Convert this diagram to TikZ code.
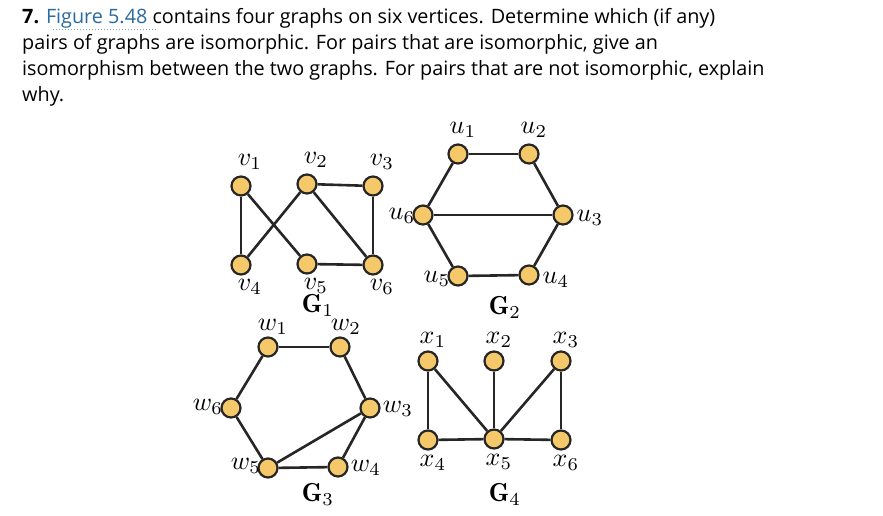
\documentclass[tikz,border=0pt]{standalone}
\usepackage{graphicx}
\usepackage{fontspec}
\setsansfont{Open Sans}
\newcommand{\mlab}[1]{\scalebox{2.6}{$#1$}}
\tikzset{
  vtx/.style={circle,draw=black!85,fill=vfill,line width=2.2pt,minimum size=19pt,inner sep=0pt},
  edg/.style={line width=2.6pt,draw=black!85},
  lab/.style={inner sep=0pt},
  glab/.style={inner sep=0pt},
  txt/.style={anchor=base west,inner sep=0pt,font=\sffamily\fontsize{19.8}{22}\selectfont}
}
\definecolor{vfill}{HTML}{F5C86A}
\definecolor{linkblue}{HTML}{2A6A9E}
\begin{document}
\begin{tikzpicture}[x=1pt,y=-1pt]
\useasboundingbox (0,0) rectangle (883,516);
\node[txt] (t1) at (22,24) {\textbf{7.} \textcolor{linkblue}{Figure 5.48} contains four graphs on six vertices. Determine which (if any)};
\node[txt] (t2) at (22,50) {pairs of graphs are isomorphic. For pairs that are isomorphic, give an};
\node[txt] (t3) at (22,76) {isomorphism between the two graphs. For pairs that are not isomorphic, explain};
\node[txt] (t4) at (22,102) {why.};
\coordinate (ua) at (53,30); \coordinate (ub) at (157,30);
\draw[linkblue!60,dotted,line width=1pt] (ua) -- (ub);
% G1
\foreach \n/\x/\y in {v1/241/186,v2/307/184,v3/373/186,v4/241/265,v5/307/264,v6/373/265}
  \node[vtx] (\n) at (\x,\y) {};
\foreach \a/\b in {v1/v4,v1/v5,v2/v4,v2/v3,v2/v6,v3/v6,v5/v6}
  \draw[edg] (\a) -- (\b);
\foreach \n/\i in {v1/1,v2/2,v3/3} \node[lab] at ([shift={(9,-24)}]\n) {\mlab{v_{\i}}};
\foreach \n/\i in {v4/4,v5/5,v6/6} \node[lab] at ([shift={(9,22)}]\n) {\mlab{v_{\i}}};
\node[glab] (g1) at (318,305) {\mlab{\mathbf{G}_1}};
% G2
\foreach \n/\x/\y in {u1/458/154,u2/529/154,u6/423/215,u3/563/215,u5/458/276,u4/529/275}
  \node[vtx] (\n) at (\x,\y) {};
\foreach \a/\b in {u1/u2,u2/u3,u3/u4,u4/u5,u5/u6,u6/u1,u6/u3}
  \draw[edg] (\a) -- (\b);
\foreach \n/\i in {u1/1,u2/2} \node[lab] at ([shift={(5,-24)}]\n) {\mlab{u_{\i}}};
\node[lab] at ([shift={(-21,1)}]u6) {\mlab{u_6}};
\node[lab] at ([shift={(27,3)}]u3) {\mlab{u_3}};
\node[lab] at ([shift={(-21,3)}]u5) {\mlab{u_5}};
\node[lab] at ([shift={(27,5)}]u4) {\mlab{u_4}};
\node[glab] (g2) at (505,307) {\mlab{\mathbf{G}_2}};
% G3
\foreach \n/\x/\y in {w1/268/347,w2/340/347,w6/231/408,w3/370/408,w5/268/468,w4/338/467}
  \node[vtx] (\n) at (\x,\y) {};
\foreach \a/\b in {w1/w2,w2/w3,w3/w4,w4/w5,w5/w6,w6/w1,w5/w3}
  \draw[edg] (\a) -- (\b);
\node[lab] at ([shift={(5,-20)}]w1) {\mlab{w_1}};
\node[lab] at ([shift={(6,-20)}]w2) {\mlab{w_2}};
\node[lab] at ([shift={(-23,-1)}]w6) {\mlab{w_6}};
\node[lab] at ([shift={(28,1)}]w3) {\mlab{w_3}};
\node[lab] at ([shift={(-22,-2)}]w5) {\mlab{w_5}};
\node[lab] at ([shift={(28,1)}]w4) {\mlab{w_4}};
\node[glab] (g3) at (318,494) {\mlab{\mathbf{G}_3}};
% G4
\foreach \n/\x/\y in {x1/428/361,x2/494/361,x3/561/361,x4/428/440,x5/494/439,x6/561/440}
  \node[vtx] (\n) at (\x,\y) {};
\foreach \a/\b in {x1/x4,x1/x5,x2/x5,x3/x5,x3/x6,x4/x5,x5/x6}
  \draw[edg] (\a) -- (\b);
\foreach \n/\i in {x1/1,x2/2,x3/3} \node[lab] at ([shift={(5,-21)}]\n) {\mlab{x_{\i}}};
\foreach \n/\i in {x4/4,x5/5,x6/6} \node[lab] at ([shift={(5,23)}]\n) {\mlab{x_{\i}}};
\node[glab] (g4) at (505,494) {\mlab{\mathbf{G}_4}};
\end{tikzpicture}
\end{document}
